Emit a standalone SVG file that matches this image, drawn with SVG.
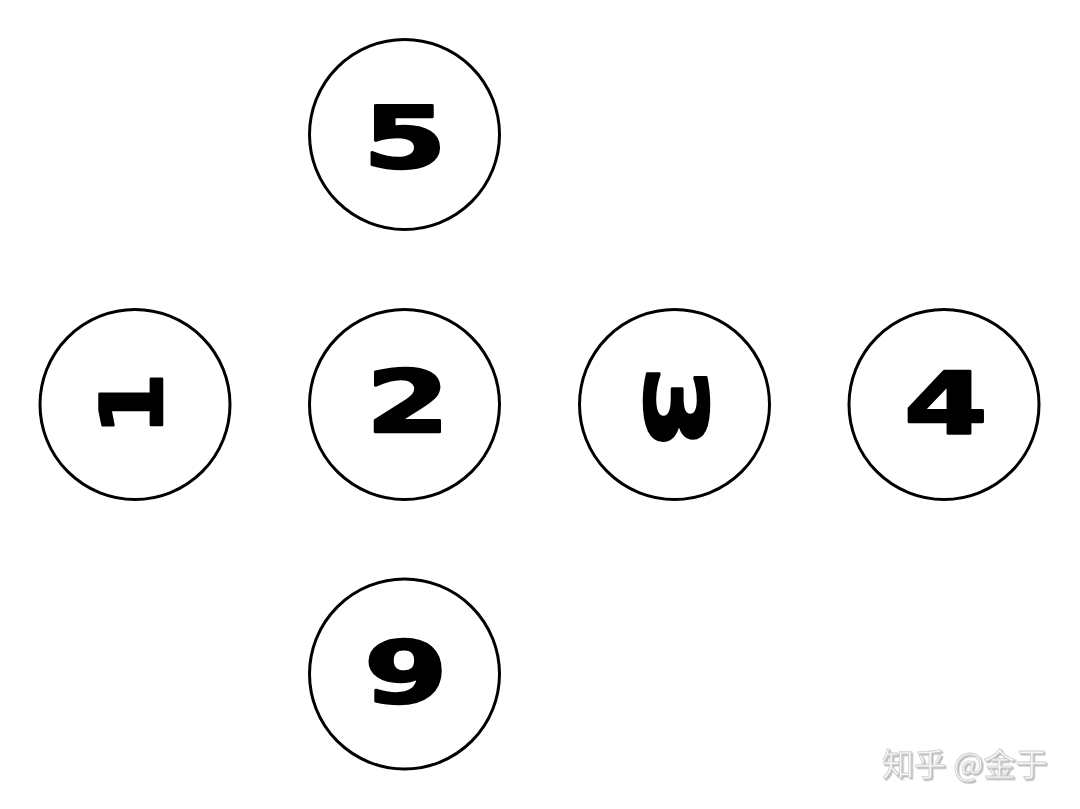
<svg xmlns="http://www.w3.org/2000/svg" width="1080" height="809" viewBox="0 0 1080 809">
<defs>
<style>
.ring{fill:#fff;stroke:#000;stroke-width:3}
.num{font-family:"DejaVu Sans","Liberation Sans",sans-serif;font-weight:bold;font-size:86px;fill:#000;stroke:#000;stroke-width:2.5;stroke-linejoin:round;text-anchor:middle}
.wm{font-family:"Noto Sans CJK SC","Noto Sans",sans-serif;font-size:32px;fill:#f7f7f7;stroke:#cfcfcf;stroke-width:0.8}
</style>
<filter id="sh" x="-10%" y="-30%" width="120%" height="160%">
<feDropShadow dx="1.5" dy="1.5" stdDeviation="0.6" flood-color="#aaa" flood-opacity="0.8"/>
</filter>
</defs>
<rect width="1080" height="809" fill="#fff"/>
<g id="node5">
<circle class="ring" cx="404.5" cy="134.5" r="95"/>
<text class="num" transform="translate(405,137) scale(1.4,1)" y="31">5</text>
</g>
<g id="node1">
<circle class="ring" cx="135" cy="404.5" r="95"/>
<text class="num" transform="translate(131,404) rotate(-90) scale(1.05,1)" y="31">1</text>
</g>
<g id="node2">
<circle class="ring" cx="404.5" cy="404.5" r="95"/>
<text class="num" transform="translate(408,401) scale(1.4,1)" y="31">2</text>
</g>
<g id="node3">
<circle class="ring" cx="674.5" cy="404.5" r="95"/>
<text class="num" transform="translate(676,408) rotate(90) scale(1.4,1)" y="31">3</text>
</g>
<g id="node4">
<circle class="ring" cx="944" cy="404.5" r="95"/>
<text class="num" transform="translate(946,402) scale(1.4,1)" y="31">4</text>
</g>
<g id="node9">
<circle class="ring" cx="404.5" cy="674" r="95"/>
<text class="num" transform="translate(406,672) scale(1.4,1)" y="31">9</text>
</g>
<g id="watermark">
<text class="wm" x="882" y="776" filter="url(#sh)">知乎 @金于</text>
</g>
</svg>
